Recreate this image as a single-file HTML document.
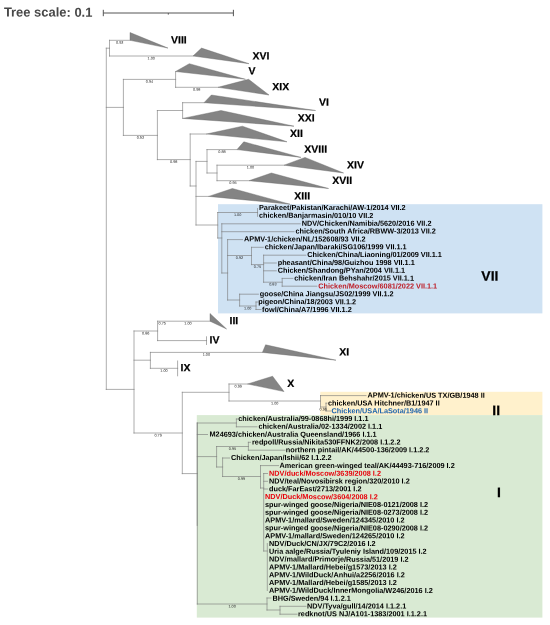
<!DOCTYPE html>
<html><head><meta charset="utf-8"><title>Tree</title>
<style>
html,body{margin:0;padding:0;background:#fff}
svg{display:block}
text{font-family:"Liberation Sans",sans-serif}
.lf{font-weight:bold;font-size:7.3px}
.cl{font-weight:bold;fill:#000;stroke:#000;stroke-width:0.2px}

.bs{font-size:3.8px;fill:#2a2a2a;text-anchor:middle}
</style></head><body>
<svg width="550" height="625" viewBox="0 0 550 625">
<rect width="550" height="625" fill="#fff"/>
<rect x="218" y="204.2" width="324.4" height="109.2" fill="#cfe2f3"/>
<rect x="320.3" y="391.8" width="222.1" height="23.4" fill="#fff1cc"/>
<rect x="196.8" y="415.1" width="345.6" height="202.5" fill="#d9ead3"/>
<text transform="matrix(1,0.0005,0,1,0,0)" x="3.9" y="16.6" font-size="12.95" font-weight="bold" fill="#484848">Tree scale: 0.1</text>
<path d="M103.3 13H233.4M103.3 9.8V16.2M233.4 9.8V16.2M168.3 13V14.6" stroke="#555" stroke-width="1" fill="none"/>
<g fill="#848484" stroke="#686868" stroke-width="0.4" stroke-linejoin="round">
<polygon points="130,40.3 130,32.5 168,48.1"/>
<polygon points="193,56 201.5,48.1 249,63.7"/>
<polygon points="175.6,71.5 189.3,63.7 245.5,79.3"/>
<polygon points="218,87.3 248.6,79.3 269,95"/>
<polygon points="204,102.7 211.4,95 315.6,110.5"/>
<polygon points="182.6,118.4 221,110.5 294,126.2"/>
<polygon points="206.5,134 242.4,126.2 287,141.8"/>
<polygon points="237,149.6 243.8,141.8 301,157.4"/>
<polygon points="284,165.2 305,157.4 343.6,173"/>
<polygon points="249,180.7 271.4,173 328.6,188.5"/>
<polygon points="208.6,196.4 232.4,188.5 290,204.2"/>
<polygon points="210,321.2 210,313.5 226.6,329"/>
<polygon points="262.4,352.4 265.6,344.8 336,360.2"/>
<polygon points="247.6,384 272.6,376.2 284,391.6"/>
</g>
<path d="M106.3 48.2H109.5M109.5 40.3H130M109.5 56H193M106.3 107.4H123.4M123.4 79.4H175.6M175.6 87.3H218M123.4 135.4H157.4M157.4 110.5H182.6M182.6 102.7H204M157.4 159.6H190.2M190.2 134H206.5M190.2 186H196M196 161.4H207M207 149.6H237M207 173H217M217 165.2H284M217 180.7H249M196 196.4H208.6M196 225H217.7M217.7 212.5H257.5M217.7 238H221.8M221.8 223.8H300.2M221.8 231.7H294M221.8 273H227.6M227.6 239.6H242.5M227.6 255.5H251.5M251.5 247.3H263.3M251.5 264.6H263.6M263.6 255.2H305.8M263.6 263H276.3M263.6 270.8H276.3M263.6 282.2H282.2M282.2 278.4H292.8M282.2 286.2H316.8M227.6 300H239.6M239.6 294.2H258.4M239.6 306H256M256 302H258M256 309.5H261M106.3 389.4H134M134 331H157.6M157.6 321.2H210M157.6 340.6H206.5M134 360.2H150.4M150.4 352.4H262.4M150.4 368.3H177.6M134 433H182.3M182.3 392.3H229M229 384H247.6M229 401H320.5M320.5 395.6H366M320.5 407H326M326 403.2H327M326 411H331M182.3 473.6H197.3M197.3 423H236.4M236.4 419H237.5M236.4 426.8H257M197.3 434.5H207.5M197.3 456.6H216.6M216.6 446.5H248.4M248.4 442.3H250.5M248.4 450.2H285M216.6 467H222.6M222.6 458H229.5M222.6 476.5H260.5M260.5 465.6H278.5M260.5 488H263.7M263.7 473.5H267.5M263.7 481.3H267.5M263.7 489H267.5M263.7 551H267.3M197.3 604H267M267 598H271M267 610H280M280 606.3H306M280 614.2H297M106.3 48.2V389.4M109.5 40.3V56M123.4 79.4V135.4M175.6 71.5V87.3M157.4 110.5V159.6M182.6 102.7V118.4M190.2 134V186M196 161.4V225M207 149.6V173M217 165.2V180.7M217.7 212.5V238M257.5 208.5V216.3M221.8 223.8V273M227.6 239.6V300M251.5 247.3V264.6M263.6 255.2V282.2M282.2 278.4V286.2M239.6 294.2V306M256 302V309.5M134 331V433M157.6 321.2V340.6M206.5 336.8V344.5M150.4 352.4V368.3M177.6 361V375.8M182.3 392.3V473.6M229 384V401M320.5 395.6V407M326 403.2V411M197.3 423V604M197.2 423V525.4M236.4 419V426.8M216.6 446.5V467M248.4 442.3V450.2M222.6 458V476.5M260.5 465.6V488M263.7 473.5V551M267.3 543.5V590.5M267 598V610M280 606.3V614.2" stroke="#7a7a7a" stroke-width="0.62" fill="none" stroke-linecap="square"/>
<g class="bs" transform="matrix(1,0.0005,0,1,0,0)">
<text x="119.75" y="43.64">0.92</text>
<text x="151.25" y="59.32">1.00</text>
<text x="149.5" y="82.73">0.94</text>
<text x="196.8" y="90.6">0.98</text>
<text x="140.4" y="138.73">0.93</text>
<text x="173.8" y="162.91">0.98</text>
<text x="222" y="152.89">0.88</text>
<text x="250.5" y="168.47">1.00</text>
<text x="233" y="183.98">0.95</text>
<text x="237.6" y="215.78">1.00</text>
<text x="239.55" y="258.78">0.92</text>
<text x="257.55" y="267.87">0.75</text>
<text x="272.9" y="285.46">0.83</text>
<text x="247.8" y="309.28">1.00</text>
<text x="145.8" y="334.33">0.86</text>
<text x="162.3" y="324.52">0.75</text>
<text x="188" y="324.51">1.00</text>
<text x="206.4" y="355.7">1.00</text>
<text x="164" y="371.62">1.00</text>
<text x="158.15" y="436.32">0.79</text>
<text x="238.3" y="387.28">0.99</text>
<text x="274.75" y="404.26">1.00</text>
<text x="323.25" y="410.24">0.96</text>
<text x="232.5" y="449.78">0.95</text>
<text x="241.55" y="479.78">0.99</text>
<text x="232.15" y="607.28">1.00</text>
</g>
<g class="lf" transform="matrix(1,0.0005,0,1,0,0)">
<text x="259" y="209.89" fill="#000">Parakeet/Pakistan/Karachi/AW-1/2014 VII.2</text>
<text x="259" y="217.73" fill="#000">chicken/Banjarmasin/010/10 VII.2</text>
<text x="301.7" y="225.55" fill="#000">NDV/Chicken/Namibia/5620/2016 VII.2</text>
<text x="295.5" y="233.39" fill="#000">chicken/South Africa/RBWW-3/2013 VII.2</text>
<text x="244" y="241.25" fill="#000">APMV-1/chicken/NL/152608/93 VII.2</text>
<text x="264.7" y="249.08" fill="#000">chicken/Japan/Ibaraki/SG106/1999 VII.1.1</text>
<text x="307.3" y="256.9" fill="#000">Chicken/China/Liaoning/01/2009 VII.1.1</text>
<text x="277.7" y="264.76" fill="#000">pheasant/China/98/Guizhou 1998 VII.1.1</text>
<text x="277.7" y="272.6" fill="#000">Chicken/Shandong/PYan/2004 VII.1.1</text>
<text x="294.3" y="280.43" fill="#000">chicken/Iran Behshahr/2015 VII.1.1</text>
<text x="318.3" y="288.26" fill="#bd1a24">Chicken/Moscow/6081/2022 VII.1.1</text>
<text x="259.8" y="296.13" fill="#000">goose/China Jiangsu/JS02/1999 VII.1.2</text>
<text x="258.3" y="303.97" fill="#000">pigeon/China/18/2003 VII.1.2</text>
<text x="262.1" y="311.81" fill="#000">fowl/China/A7/1996 VII.1.2</text>
<text x="367.5" y="397.43" fill="#000">APMV-1/chicken/US TX/GB/1948 II</text>
<text x="328" y="405.25" fill="#000">chicken/USA Hitchner/B1/1947 II</text>
<text x="331.6" y="413.05" fill="#2166ac">Chicken/USA/LaSota/1946 II</text>
<text x="238.3" y="420.9" fill="#000">chicken/Australia/99-0868hi/1999 I.1.1</text>
<text x="258.5" y="428.7" fill="#000">chicken/Australia/02-1334/2002 I.1.1</text>
<text x="209.5" y="436.53" fill="#000">M24693/chicken/Australia Queensland/1966 I.1.1</text>
<text x="252" y="444.32" fill="#000">redpoll/Russia/Nikita530FFNK2/2008 I.1.2.2</text>
<text x="285.8" y="452.11" fill="#000">northern pintail/AK/44500-136/2009 I.1.2.2</text>
<text x="231" y="459.95" fill="#000">Chicken/Japan/Ishii/62 I.1.2.2</text>
<text x="279.5" y="467.74" fill="#000">American green-winged teal/AK/44493-716/2009 I.2</text>
<text x="269" y="475.55" fill="#e8000a">NDV/duck/Moscow/3639/2008 I.2</text>
<text x="269" y="483.36" fill="#000">NDV/teal/Novosibirsk region/320/2010 I.2</text>
<text x="269" y="491.17" fill="#000">duck/FarEast/2713/2001 I.2</text>
<text x="265" y="498.98" fill="#e8000a">NDV/Duck/Moscow/3604/2008 I.2</text>
<text x="265" y="506.79" fill="#000">spur-winged goose/Nigeria/NIE08-0121/2008 I.2</text>
<text x="265" y="514.6" fill="#000">spur-winged goose/Nigeria/NIE08-0273/2008 I.2</text>
<text x="265" y="522.41" fill="#000">APMV-1/mallard/Sweden/124345/2010 I.2</text>
<text x="265" y="530.22" fill="#000">spur-winged goose/Nigeria/NIE08-0290/2008 I.2</text>
<text x="265" y="538.03" fill="#000">APMV-1/mallard/Sweden/124265/2010 I.2</text>
<text x="269" y="545.84" fill="#000">NDV/Duck/CN/JX/79C2/2016 I.2</text>
<text x="269" y="553.65" fill="#000">Uria aalge/Russia/Tyuleniy Island/109/2015 I.2</text>
<text x="269" y="561.46" fill="#000">NDV/mallard/Primorje/Russia/51/2019 I.2</text>
<text x="269" y="569.27" fill="#000">APMV-1/Mallard/Hebei/g1573/2013 I.2</text>
<text x="269" y="577.08" fill="#000">APMV-1/WildDuck/Anhui/a2256/2016 I.2</text>
<text x="269" y="584.89" fill="#000">APMV-1/Mallard/Hebei/g1585/2013 I.2</text>
<text x="269" y="592.7" fill="#000">APMV-1/WildDuck/InnerMongolia/W246/2016 I.2</text>
<text x="272.5" y="600.51" fill="#000">BHG/Sweden/94 I.1.2.1</text>
<text x="307" y="608.3" fill="#000">NDV/Tyva/gull/14/2014 I.1.2.1</text>
<text x="298" y="616.12" fill="#000">redknot/US NJ/A101-1383/2001 I.1.2.1</text>
</g>
<g class="cl" transform="matrix(1,0.0005,0,1,0,0)">
<text x="171" y="43.31" font-size="10.5">VIII</text>
<text x="252.5" y="59.27" font-size="10.5">XVI</text>
<text x="248.5" y="74.37" font-size="10.5">V</text>
<text x="272.3" y="90.06" font-size="10.5">XIX</text>
<text x="319" y="105.54" font-size="10.5">VI</text>
<text x="297.7" y="121.25" font-size="10.5">XXI</text>
<text x="290" y="136.95" font-size="10.5">XII</text>
<text x="304.3" y="152.54" font-size="10.5">XVIII</text>
<text x="347" y="168.22" font-size="10.5">XIV</text>
<text x="332.3" y="183.73" font-size="10.5">XVII</text>
<text x="294.3" y="199.35" font-size="10.5">XIII</text>
<text x="229.5" y="324.18" font-size="10.5">III</text>
<text x="209.6" y="343.39" font-size="10.5">IV</text>
<text x="339.3" y="355.33" font-size="10.5">XI</text>
<text x="180.6" y="371.21" font-size="10.5">IX</text>
<text x="287.3" y="386.75" font-size="10.5">X</text>
<text x="481.3" y="280.46" font-size="14">VII</text>
<text x="492.3" y="414.95" font-size="14">II</text>
<text x="497" y="496.95" font-size="14">I</text>
</g>
</svg></body></html>
